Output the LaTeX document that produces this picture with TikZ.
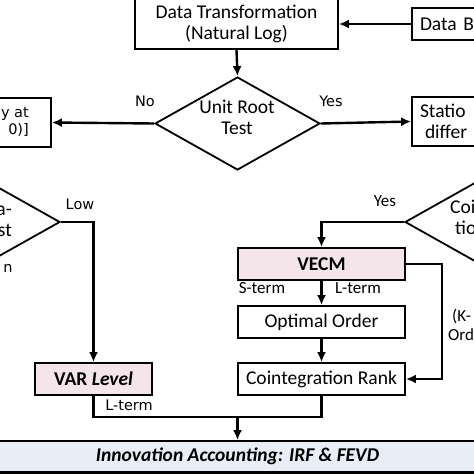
\documentclass[tikz,border=0pt]{standalone}
\usepackage{fontspec}
\setmainfont{Carlito}
\newfontfamily\dejavu{DejaVu Sans}
\usetikzlibrary{arrows.meta,shapes.geometric}

\tikzset{
  box/.style={draw, line width=1.8pt, inner sep=2pt, align=center,
              font=\fontsize{19.5}{21}\selectfont},
  tbox/.style={box, fill=pinkish},
  dec/.style={draw, line width=1.8pt, shape=diamond, aspect=1.77, inner sep=0pt,
              minimum width=165pt, minimum height=93pt, align=center,
              font=\fontsize{19.5}{21}\selectfont},
  dtext/.style={inner sep=0pt, font=\fontsize{19.5}{21}\selectfont},
  lab/.style={inner sep=0pt, font=\fontsize{17}{19}\selectfont},
  vlab/.style={inner sep=0pt, font=\dejavu\fontsize{14.5}{17}\selectfont},
  link/.style={line width=2.4pt},
  arr/.style={link, -{Latex[length=10pt,width=9pt]}}
}
\definecolor{pinkish}{HTML}{F3E5EA}
\definecolor{bluish}{HTML}{E9EDF5}

\begin{document}
\begin{tikzpicture}[x=1pt,y=-1pt]
  \clip (0,0) rectangle (474,474);

  % top row
  \node[box, minimum width=203pt, minimum height=50pt] (dt) at (236.5,24)
       {Data Transformation\\(Natural Log)};
  \node[box, minimum width=128pt, minimum height=32pt, text width=112pt, align=left]
       (datab) at (476,24) {Data B};

  % unit root test
  \node[dec] (urt) at (237.5,123.5) {};
  \node[dtext, align=center] (urttxt) at (237,117) {Unit Root\\Test};
  \node[box, minimum width=122pt, minimum height=49pt] (lbox) at (-10,122.5) {};
  \node[vlab, align=right, anchor=east] (lboxtxt) at (29,122) {y at\\0)]};
  \node[box, minimum width=116pt, minimum height=49pt, text width=100pt, align=left]
       (stat) at (470,121.5) {Statio\\\hspace*{5pt}differ};

  % second row of tests
  \node[dec] (ld) at (-22.5,222) {};
  \node[dtext, align=right, anchor=east] (ldtxt) at (12,221) {a-\\st};
  \node[dec] (rd) at (487.5,222) {};
  \node[dtext, align=left, anchor=west] (rdtxt) at (450,217)
       {Coi\\\hspace*{5pt}tio};

  % models
  \node[tbox, minimum width=117pt, minimum height=32pt] (var) at (93.5,379)
       {\textbf{VAR \textit{Level}}};
  \node[tbox, minimum width=167pt, minimum height=32pt] (vecm) at (321.5,264)
       {\textbf{VECM}};
  \node[box, minimum width=167pt, minimum height=32pt] (oo) at (321.5,322)
       {Optimal Order};
  \node[box, minimum width=167pt, minimum height=32pt] (cr) at (321.5,379)
       {Cointegration Rank};
  \node[box, fill=bluish, minimum width=490pt, minimum height=31pt] (ia) at (237.5,456.5)
       {\textbf{\textit{Innovation Accounting: IRF \& FEVD}}};
  \draw[line width=3.5pt] (ia.south west) -- (ia.south east);

  % connectors
  \draw[arr] (datab.west) -- (dt.east);
  \draw[arr] (dt.south) -- (urt.north);
  \draw[arr] (urt.west) -- (lbox.east);
  \draw[arr] (urt.east) -- (stat.west);
  \draw[arr] (ld.east) -| (var.north);
  \draw[arr] (rd.west) -| (vecm.north);
  \draw[arr] (vecm.south) -- (oo.north);
  \draw[arr] (oo.south) -- (cr.north);
  \draw[arr] (vecm.east) -- ++(36,0) |- (cr.east);
  \coordinate (jn) at (237.5,417);
  \draw[link] (var.south) |- (jn);
  \draw[link] (cr.south) |- (jn);
  \draw[arr] (jn) -- (ia.north);

  % labels
  \node[vlab] (no) at (145,101) {No};
  \node[vlab] (yes1) at (331,101) {Yes};
  \node[vlab] (low) at (80,204) {Low};
  \node[vlab] (nlab) at (8,268) {n};
  \node[vlab] (lterm1) at (129,405) {L-term};
  \node[lab] (yes2) at (385,201) {Yes};
  \node[lab] (sterm) at (262,288) {S-term};
  \node[lab] (lterm2) at (358,288) {L-term};
  \node[lab, align=left, anchor=west] (kord) at (448,325) {\hspace*{4pt}(K-\\Ord};
\end{tikzpicture}
\end{document}
